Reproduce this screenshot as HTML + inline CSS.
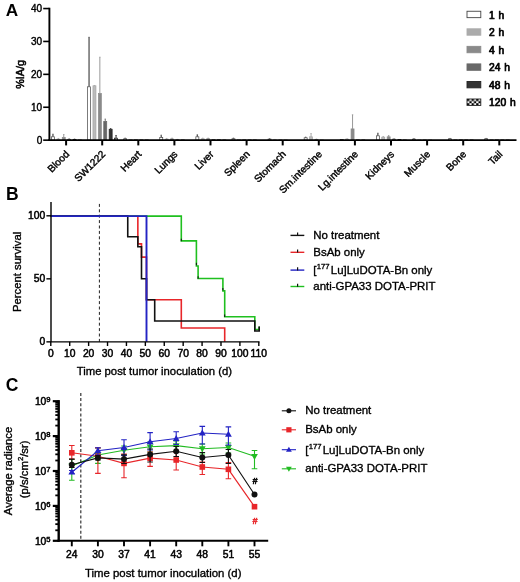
<!DOCTYPE html>
<html lang="en"><head><meta charset="utf-8"><title>Figure</title>
<style>
html,body{margin:0;padding:0;background:#fff;}
svg{display:block;}
text{font-family:"Liberation Sans", Arial, Helvetica, sans-serif;fill:#000;stroke:#000;stroke-width:0.3px;stroke-linejoin:round;}
.a{font-size:10px;stroke-width:0.4px;}
.ac{font-size:10.1px;stroke-width:0.4px;}
.t{font-size:10.3px;stroke-width:0.5px;}
.b{font-size:11.3px;stroke-width:0.35px;}
.lg{font-size:11.45px;stroke-width:0.35px;}
.pl{font-size:17.5px;font-weight:bold;fill:#000;stroke:none;}
</style></head><body>
<svg width="520" height="582" viewBox="0 0 520 582">
<defs>
<pattern id="chk" x="467" y="98.85" width="4.6" height="4.4" patternUnits="userSpaceOnUse">
<rect width="4.6" height="4.4" fill="#fff"/><rect width="2.3" height="2.2" fill="#000"/><rect x="2.3" y="2.2" width="2.3" height="2.2" fill="#000"/>
</pattern>
</defs>
<rect width="520" height="582" fill="#fff"/>

<text class="pl" x="5.7" y="15.6" style="font-size:17.2px">A</text>
<text class="pl" x="6" y="199.5">B</text>
<text class="pl" x="5.8" y="390.6">C</text>
<g id="panelA">
<line x1="52.95" y1="136.81" x2="52.95" y2="134.18" stroke="#555" stroke-width="1.3"/>
<line x1="52.25" y1="134.18" x2="53.65" y2="134.18" stroke="#555" stroke-width="0.8"/>
<rect x="51.45" y="136.81" width="3.0" height="3.29" fill="#fff" stroke="#444" stroke-width="0.7"/>
<line x1="58.35" y1="139.11" x2="58.35" y2="138.45" stroke="#aaa" stroke-width="1.0"/>
<line x1="57.65" y1="138.45" x2="59.05" y2="138.45" stroke="#aaa" stroke-width="0.8"/>
<rect x="56.85" y="139.11" width="3.0" height="0.99" fill="#bbbbbb" stroke="#a4a4a4" stroke-width="0.7"/>
<line x1="63.75" y1="137.47" x2="63.75" y2="134.51" stroke="#999" stroke-width="1.0"/>
<line x1="63.05" y1="134.51" x2="64.45" y2="134.51" stroke="#999" stroke-width="0.8"/>
<rect x="62.25" y="137.47" width="3.0" height="2.63" fill="#8a8a8a" stroke="#8a8a8a" stroke-width="0.7"/>
<line x1="69.15" y1="139.28" x2="69.15" y2="138.78" stroke="#777" stroke-width="1.0"/>
<line x1="68.45" y1="138.78" x2="69.85" y2="138.78" stroke="#777" stroke-width="0.8"/>
<rect x="67.65" y="139.28" width="3.0" height="0.82" fill="#686868" stroke="#686868" stroke-width="0.7"/>
<line x1="74.55" y1="139.44" x2="74.55" y2="139.11" stroke="#333" stroke-width="1.0"/>
<line x1="73.85" y1="139.11" x2="75.25" y2="139.11" stroke="#333" stroke-width="0.8"/>
<rect x="73.05" y="139.44" width="3.0" height="0.66" fill="#333" stroke="#222" stroke-width="0.7"/>
<rect x="78.45" y="139.94" width="3.0" height="0.16" fill="url(#chk)" stroke="#222" stroke-width="0.7"/>
<line x1="89.05" y1="86.80" x2="89.05" y2="37.29" stroke="#555" stroke-width="1.3"/>
<line x1="88.35" y1="37.29" x2="89.75" y2="37.29" stroke="#555" stroke-width="0.8"/>
<rect x="87.55" y="86.80" width="3.0" height="53.30" fill="#fff" stroke="#444" stroke-width="0.7"/>
<line x1="94.45" y1="85.81" x2="94.45" y2="85.49" stroke="#aaa" stroke-width="1.0"/>
<line x1="93.75" y1="85.49" x2="95.15" y2="85.49" stroke="#aaa" stroke-width="0.8"/>
<rect x="92.95" y="85.81" width="3.0" height="54.28" fill="#bbbbbb" stroke="#a4a4a4" stroke-width="0.7"/>
<line x1="99.85" y1="93.38" x2="99.85" y2="57.19" stroke="#999" stroke-width="1.0"/>
<line x1="99.15" y1="57.19" x2="100.55" y2="57.19" stroke="#999" stroke-width="0.8"/>
<rect x="98.35" y="93.38" width="3.0" height="46.72" fill="#8a8a8a" stroke="#8a8a8a" stroke-width="0.7"/>
<line x1="105.25" y1="121.35" x2="105.25" y2="119.04" stroke="#777" stroke-width="1.0"/>
<line x1="104.55" y1="119.04" x2="105.95" y2="119.04" stroke="#777" stroke-width="0.8"/>
<rect x="103.75" y="121.35" width="3.0" height="18.75" fill="#686868" stroke="#686868" stroke-width="0.7"/>
<line x1="110.65" y1="129.24" x2="110.65" y2="128.58" stroke="#333" stroke-width="1.0"/>
<line x1="109.95" y1="128.58" x2="111.35" y2="128.58" stroke="#333" stroke-width="0.8"/>
<rect x="109.15" y="129.24" width="3.0" height="10.86" fill="#333" stroke="#222" stroke-width="0.7"/>
<line x1="116.05" y1="138.13" x2="116.05" y2="135.49" stroke="#333" stroke-width="1.0"/>
<line x1="115.35" y1="135.49" x2="116.75" y2="135.49" stroke="#333" stroke-width="0.8"/>
<rect x="114.55" y="138.13" width="3.0" height="1.97" fill="url(#chk)" stroke="#222" stroke-width="0.7"/>
<line x1="125.15" y1="138.78" x2="125.15" y2="138.13" stroke="#555" stroke-width="1.3"/>
<line x1="124.45" y1="138.13" x2="125.85" y2="138.13" stroke="#555" stroke-width="0.8"/>
<rect x="123.65" y="138.78" width="3.0" height="1.32" fill="#fff" stroke="#444" stroke-width="0.7"/>
<rect x="129.05" y="139.61" width="3.0" height="0.49" fill="#bbbbbb" stroke="#a4a4a4" stroke-width="0.7"/>
<rect x="134.45" y="139.61" width="3.0" height="0.49" fill="#8a8a8a" stroke="#8a8a8a" stroke-width="0.7"/>
<rect x="139.85" y="139.77" width="3.0" height="0.33" fill="#686868" stroke="#686868" stroke-width="0.7"/>
<rect x="145.25" y="139.94" width="3.0" height="0.16" fill="#333" stroke="#222" stroke-width="0.7"/>
<line x1="161.25" y1="137.47" x2="161.25" y2="135.16" stroke="#555" stroke-width="1.3"/>
<line x1="160.55" y1="135.16" x2="161.95" y2="135.16" stroke="#555" stroke-width="0.8"/>
<rect x="159.75" y="137.47" width="3.0" height="2.63" fill="#fff" stroke="#444" stroke-width="0.7"/>
<line x1="166.65" y1="139.11" x2="166.65" y2="138.45" stroke="#aaa" stroke-width="1.0"/>
<line x1="165.95" y1="138.45" x2="167.35" y2="138.45" stroke="#aaa" stroke-width="0.8"/>
<rect x="165.15" y="139.11" width="3.0" height="0.99" fill="#bbbbbb" stroke="#a4a4a4" stroke-width="0.7"/>
<line x1="172.05" y1="138.95" x2="172.05" y2="138.13" stroke="#999" stroke-width="1.0"/>
<line x1="171.35" y1="138.13" x2="172.75" y2="138.13" stroke="#999" stroke-width="0.8"/>
<rect x="170.55" y="138.95" width="3.0" height="1.15" fill="#8a8a8a" stroke="#8a8a8a" stroke-width="0.7"/>
<line x1="177.45" y1="139.77" x2="177.45" y2="139.44" stroke="#777" stroke-width="1.0"/>
<line x1="176.75" y1="139.44" x2="178.15" y2="139.44" stroke="#777" stroke-width="0.8"/>
<rect x="175.95" y="139.77" width="3.0" height="0.33" fill="#686868" stroke="#686868" stroke-width="0.7"/>
<rect x="181.35" y="139.94" width="3.0" height="0.16" fill="#333" stroke="#222" stroke-width="0.7"/>
<line x1="197.35" y1="136.81" x2="197.35" y2="134.84" stroke="#555" stroke-width="1.3"/>
<line x1="196.65" y1="134.84" x2="198.05" y2="134.84" stroke="#555" stroke-width="0.8"/>
<rect x="195.85" y="136.81" width="3.0" height="3.29" fill="#fff" stroke="#444" stroke-width="0.7"/>
<line x1="202.75" y1="138.78" x2="202.75" y2="138.13" stroke="#aaa" stroke-width="1.0"/>
<line x1="202.05" y1="138.13" x2="203.45" y2="138.13" stroke="#aaa" stroke-width="0.8"/>
<rect x="201.25" y="138.78" width="3.0" height="1.32" fill="#bbbbbb" stroke="#a4a4a4" stroke-width="0.7"/>
<line x1="208.15" y1="138.78" x2="208.15" y2="138.13" stroke="#999" stroke-width="1.0"/>
<line x1="207.45" y1="138.13" x2="208.85" y2="138.13" stroke="#999" stroke-width="0.8"/>
<rect x="206.65" y="138.78" width="3.0" height="1.32" fill="#8a8a8a" stroke="#8a8a8a" stroke-width="0.7"/>
<rect x="212.05" y="139.61" width="3.0" height="0.49" fill="#686868" stroke="#686868" stroke-width="0.7"/>
<rect x="217.45" y="139.77" width="3.0" height="0.33" fill="#333" stroke="#222" stroke-width="0.7"/>
<rect x="222.85" y="139.94" width="3.0" height="0.16" fill="url(#chk)" stroke="#222" stroke-width="0.7"/>
<line x1="233.45" y1="138.78" x2="233.45" y2="138.13" stroke="#555" stroke-width="1.3"/>
<line x1="232.75" y1="138.13" x2="234.15" y2="138.13" stroke="#555" stroke-width="0.8"/>
<rect x="231.95" y="138.78" width="3.0" height="1.32" fill="#fff" stroke="#444" stroke-width="0.7"/>
<rect x="237.35" y="139.61" width="3.0" height="0.49" fill="#bbbbbb" stroke="#a4a4a4" stroke-width="0.7"/>
<rect x="242.75" y="139.61" width="3.0" height="0.49" fill="#8a8a8a" stroke="#8a8a8a" stroke-width="0.7"/>
<rect x="248.15" y="139.77" width="3.0" height="0.33" fill="#686868" stroke="#686868" stroke-width="0.7"/>
<rect x="253.55" y="139.94" width="3.0" height="0.16" fill="#333" stroke="#222" stroke-width="0.7"/>
<line x1="269.55" y1="139.11" x2="269.55" y2="138.78" stroke="#555" stroke-width="1.3"/>
<line x1="268.85" y1="138.78" x2="270.25" y2="138.78" stroke="#555" stroke-width="0.8"/>
<rect x="268.05" y="139.11" width="3.0" height="0.99" fill="#fff" stroke="#444" stroke-width="0.7"/>
<line x1="274.95" y1="139.77" x2="274.95" y2="139.44" stroke="#aaa" stroke-width="1.0"/>
<line x1="274.25" y1="139.44" x2="275.65" y2="139.44" stroke="#aaa" stroke-width="0.8"/>
<rect x="273.45" y="139.77" width="3.0" height="0.33" fill="#bbbbbb" stroke="#a4a4a4" stroke-width="0.7"/>
<rect x="278.85" y="139.77" width="3.0" height="0.33" fill="#8a8a8a" stroke="#8a8a8a" stroke-width="0.7"/>
<rect x="284.25" y="139.94" width="3.0" height="0.16" fill="#686868" stroke="#686868" stroke-width="0.7"/>
<line x1="305.65" y1="137.80" x2="305.65" y2="137.14" stroke="#555" stroke-width="1.3"/>
<line x1="304.95" y1="137.14" x2="306.35" y2="137.14" stroke="#555" stroke-width="0.8"/>
<rect x="304.15" y="137.80" width="3.0" height="2.30" fill="#fff" stroke="#444" stroke-width="0.7"/>
<line x1="311.05" y1="136.81" x2="311.05" y2="133.52" stroke="#aaa" stroke-width="1.0"/>
<line x1="310.35" y1="133.52" x2="311.75" y2="133.52" stroke="#aaa" stroke-width="0.8"/>
<rect x="309.55" y="136.81" width="3.0" height="3.29" fill="#bbbbbb" stroke="#a4a4a4" stroke-width="0.7"/>
<line x1="316.45" y1="139.44" x2="316.45" y2="139.11" stroke="#999" stroke-width="1.0"/>
<line x1="315.75" y1="139.11" x2="317.15" y2="139.11" stroke="#999" stroke-width="0.8"/>
<rect x="314.95" y="139.44" width="3.0" height="0.66" fill="#8a8a8a" stroke="#8a8a8a" stroke-width="0.7"/>
<rect x="320.35" y="139.94" width="3.0" height="0.16" fill="#686868" stroke="#686868" stroke-width="0.7"/>
<rect x="340.25" y="139.61" width="3.0" height="0.49" fill="#fff" stroke="#444" stroke-width="0.7"/>
<line x1="347.15" y1="139.11" x2="347.15" y2="138.78" stroke="#aaa" stroke-width="1.0"/>
<line x1="346.45" y1="138.78" x2="347.85" y2="138.78" stroke="#aaa" stroke-width="0.8"/>
<rect x="345.65" y="139.11" width="3.0" height="0.99" fill="#bbbbbb" stroke="#a4a4a4" stroke-width="0.7"/>
<line x1="352.55" y1="128.91" x2="352.55" y2="114.77" stroke="#999" stroke-width="1.0"/>
<line x1="351.85" y1="114.77" x2="353.25" y2="114.77" stroke="#999" stroke-width="0.8"/>
<rect x="351.05" y="128.91" width="3.0" height="11.19" fill="#8a8a8a" stroke="#8a8a8a" stroke-width="0.7"/>
<rect x="356.45" y="139.77" width="3.0" height="0.33" fill="#686868" stroke="#686868" stroke-width="0.7"/>
<rect x="361.85" y="139.94" width="3.0" height="0.16" fill="#333" stroke="#222" stroke-width="0.7"/>
<line x1="377.85" y1="135.82" x2="377.85" y2="133.19" stroke="#555" stroke-width="1.3"/>
<line x1="377.15" y1="133.19" x2="378.55" y2="133.19" stroke="#555" stroke-width="0.8"/>
<rect x="376.35" y="135.82" width="3.0" height="4.28" fill="#fff" stroke="#444" stroke-width="0.7"/>
<line x1="383.25" y1="137.14" x2="383.25" y2="136.48" stroke="#aaa" stroke-width="1.0"/>
<line x1="382.55" y1="136.48" x2="383.95" y2="136.48" stroke="#aaa" stroke-width="0.8"/>
<rect x="381.75" y="137.14" width="3.0" height="2.96" fill="#bbbbbb" stroke="#a4a4a4" stroke-width="0.7"/>
<line x1="388.65" y1="136.81" x2="388.65" y2="135.49" stroke="#999" stroke-width="1.0"/>
<line x1="387.95" y1="135.49" x2="389.35" y2="135.49" stroke="#999" stroke-width="0.8"/>
<rect x="387.15" y="136.81" width="3.0" height="3.29" fill="#8a8a8a" stroke="#8a8a8a" stroke-width="0.7"/>
<line x1="394.05" y1="139.11" x2="394.05" y2="138.78" stroke="#777" stroke-width="1.0"/>
<line x1="393.35" y1="138.78" x2="394.75" y2="138.78" stroke="#777" stroke-width="0.8"/>
<rect x="392.55" y="139.11" width="3.0" height="0.99" fill="#686868" stroke="#686868" stroke-width="0.7"/>
<rect x="397.95" y="139.61" width="3.0" height="0.49" fill="#333" stroke="#222" stroke-width="0.7"/>
<rect x="403.35" y="139.94" width="3.0" height="0.16" fill="url(#chk)" stroke="#222" stroke-width="0.7"/>
<line x1="413.95" y1="139.11" x2="413.95" y2="138.78" stroke="#555" stroke-width="1.3"/>
<line x1="413.25" y1="138.78" x2="414.65" y2="138.78" stroke="#555" stroke-width="0.8"/>
<rect x="412.45" y="139.11" width="3.0" height="0.99" fill="#fff" stroke="#444" stroke-width="0.7"/>
<rect x="417.85" y="139.77" width="3.0" height="0.33" fill="#bbbbbb" stroke="#a4a4a4" stroke-width="0.7"/>
<rect x="423.25" y="139.77" width="3.0" height="0.33" fill="#8a8a8a" stroke="#8a8a8a" stroke-width="0.7"/>
<rect x="428.65" y="139.94" width="3.0" height="0.16" fill="#686868" stroke="#686868" stroke-width="0.7"/>
<line x1="450.05" y1="138.78" x2="450.05" y2="138.45" stroke="#555" stroke-width="1.3"/>
<line x1="449.35" y1="138.45" x2="450.75" y2="138.45" stroke="#555" stroke-width="0.8"/>
<rect x="448.55" y="138.78" width="3.0" height="1.32" fill="#fff" stroke="#444" stroke-width="0.7"/>
<rect x="453.95" y="139.61" width="3.0" height="0.49" fill="#bbbbbb" stroke="#a4a4a4" stroke-width="0.7"/>
<rect x="459.35" y="139.61" width="3.0" height="0.49" fill="#8a8a8a" stroke="#8a8a8a" stroke-width="0.7"/>
<rect x="464.75" y="139.77" width="3.0" height="0.33" fill="#686868" stroke="#686868" stroke-width="0.7"/>
<rect x="470.15" y="139.94" width="3.0" height="0.16" fill="#333" stroke="#222" stroke-width="0.7"/>
<line x1="486.15" y1="138.78" x2="486.15" y2="138.45" stroke="#555" stroke-width="1.3"/>
<line x1="485.45" y1="138.45" x2="486.85" y2="138.45" stroke="#555" stroke-width="0.8"/>
<rect x="484.65" y="138.78" width="3.0" height="1.32" fill="#fff" stroke="#444" stroke-width="0.7"/>
<rect x="490.05" y="139.61" width="3.0" height="0.49" fill="#bbbbbb" stroke="#a4a4a4" stroke-width="0.7"/>
<rect x="495.45" y="139.44" width="3.0" height="0.66" fill="#8a8a8a" stroke="#8a8a8a" stroke-width="0.7"/>
<rect x="500.85" y="139.77" width="3.0" height="0.33" fill="#686868" stroke="#686868" stroke-width="0.7"/>
<rect x="506.25" y="139.94" width="3.0" height="0.16" fill="#333" stroke="#222" stroke-width="0.7"/>
<path d="M49.4,7.75 V140.1 H516.5" fill="none" stroke="#000" stroke-width="1.9" stroke-linecap="butt"/>
<line x1="48.4" y1="140.1" x2="49.4" y2="140.1" stroke="#000" stroke-width="2"/>
<line x1="43.2" y1="8.55" x2="49.4" y2="8.55" stroke="#000" stroke-width="1.6"/>
<text class="a" x="42.2" y="12.15" text-anchor="end">40</text>
<line x1="43.2" y1="41.45" x2="49.4" y2="41.45" stroke="#000" stroke-width="1.6"/>
<text class="a" x="42.2" y="45.05" text-anchor="end">30</text>
<line x1="43.2" y1="74.35" x2="49.4" y2="74.35" stroke="#000" stroke-width="1.6"/>
<text class="a" x="42.2" y="77.95" text-anchor="end">20</text>
<line x1="43.2" y1="107.25" x2="49.4" y2="107.25" stroke="#000" stroke-width="1.6"/>
<text class="a" x="42.2" y="110.85" text-anchor="end">10</text>
<line x1="43.2" y1="140.15" x2="49.4" y2="140.15" stroke="#000" stroke-width="1.6"/>
<text class="a" x="42.2" y="143.75" text-anchor="end">0</text>
<line x1="66.10" y1="140.1" x2="66.10" y2="145.4" stroke="#000" stroke-width="2"/>
<text class="ac" text-anchor="end" transform="translate(69.90,154.8) rotate(-45)">Blood</text>
<line x1="102.20" y1="140.1" x2="102.20" y2="145.4" stroke="#000" stroke-width="2"/>
<text class="ac" text-anchor="end" transform="translate(106.00,154.8) rotate(-45)">SW1222</text>
<line x1="138.30" y1="140.1" x2="138.30" y2="145.4" stroke="#000" stroke-width="2"/>
<text class="ac" text-anchor="end" transform="translate(142.10,154.8) rotate(-45)">Heart</text>
<line x1="174.40" y1="140.1" x2="174.40" y2="145.4" stroke="#000" stroke-width="2"/>
<text class="ac" text-anchor="end" transform="translate(178.20,154.8) rotate(-45)">Lungs</text>
<line x1="210.50" y1="140.1" x2="210.50" y2="145.4" stroke="#000" stroke-width="2"/>
<text class="ac" text-anchor="end" transform="translate(214.30,154.8) rotate(-45)">Liver</text>
<line x1="246.60" y1="140.1" x2="246.60" y2="145.4" stroke="#000" stroke-width="2"/>
<text class="ac" text-anchor="end" transform="translate(250.40,154.8) rotate(-45)">Spleen</text>
<line x1="282.70" y1="140.1" x2="282.70" y2="145.4" stroke="#000" stroke-width="2"/>
<text class="ac" text-anchor="end" transform="translate(286.50,154.8) rotate(-45)">Stomach</text>
<line x1="318.80" y1="140.1" x2="318.80" y2="145.4" stroke="#000" stroke-width="2"/>
<text class="ac" text-anchor="end" transform="translate(322.60,154.8) rotate(-45)">Sm.intestine</text>
<line x1="354.90" y1="140.1" x2="354.90" y2="145.4" stroke="#000" stroke-width="2"/>
<text class="ac" text-anchor="end" transform="translate(358.70,154.8) rotate(-45)">Lg.intestine</text>
<line x1="391.00" y1="140.1" x2="391.00" y2="145.4" stroke="#000" stroke-width="2"/>
<text class="ac" text-anchor="end" transform="translate(394.80,154.8) rotate(-45)">Kidneys</text>
<line x1="427.10" y1="140.1" x2="427.10" y2="145.4" stroke="#000" stroke-width="2"/>
<text class="ac" text-anchor="end" transform="translate(430.90,154.8) rotate(-45)">Muscle</text>
<line x1="463.20" y1="140.1" x2="463.20" y2="145.4" stroke="#000" stroke-width="2"/>
<text class="ac" text-anchor="end" transform="translate(467.00,154.8) rotate(-45)">Bone</text>
<line x1="499.30" y1="140.1" x2="499.30" y2="145.4" stroke="#000" stroke-width="2"/>
<text class="ac" text-anchor="end" transform="translate(503.10,154.8) rotate(-45)">Tail</text>
<text class="a" style="font-size:10.8px;stroke-width:0.5px" text-anchor="middle" transform="translate(24.3,74.4) rotate(-90)">%IA/g</text>
<rect x="467" y="11.25" width="13.8" height="6.4" fill="#fff" stroke="#444" stroke-width="0.9"/>
<text class="a" x="489.1" y="18.55" style="word-spacing:0.8px;font-size:10.3px;stroke-width:0.7px">1 h</text>
<rect x="467" y="28.80" width="13.8" height="6.4" fill="#ababab" stroke="#ababab" stroke-width="0.9"/>
<text class="a" x="489.1" y="36.10" style="word-spacing:0.8px;font-size:10.3px;stroke-width:0.7px">2 h</text>
<rect x="467" y="46.35" width="13.8" height="6.4" fill="#8a8a8a" stroke="#8a8a8a" stroke-width="0.9"/>
<text class="a" x="489.1" y="53.65" style="word-spacing:0.8px;font-size:10.3px;stroke-width:0.7px">4 h</text>
<rect x="467" y="63.90" width="13.8" height="6.4" fill="#686868" stroke="#686868" stroke-width="0.9"/>
<text class="a" x="489.1" y="71.20" style="word-spacing:0.8px;font-size:10.3px;stroke-width:0.7px">24 h</text>
<rect x="467" y="81.45" width="13.8" height="6.4" fill="#333" stroke="#222" stroke-width="0.9"/>
<text class="a" x="489.1" y="88.75" style="word-spacing:0.8px;font-size:10.3px;stroke-width:0.7px">48 h</text>
<rect x="467" y="99.00" width="13.8" height="6.4" fill="url(#chk)" stroke="#222" stroke-width="0.9"/>
<text class="a" x="489.1" y="106.30" style="word-spacing:0.8px;font-size:10.3px;stroke-width:0.7px">120 h</text>
</g>
<g id="panelB">
<line x1="99.4" y1="203.9" x2="99.4" y2="341.85" stroke="#222" stroke-width="1" stroke-dasharray="3,2.4"/>
<path d="M50.80,216.10 L137.85,216.10 L137.85,243.90 L141.50,243.90 L141.50,257.10 L146.50,257.10 L146.50,299.80 L181.30,299.80 L181.30,328.00 L224.70,328.00 L224.70,341.85" fill="none" stroke="#e8262a" stroke-width="1.6" stroke-linejoin="miter"/>
<path d="M50.80,216.10 L181.30,216.10 L181.30,240.90 L196.40,240.90 L196.40,266.00 L198.10,266.00 L198.10,278.50 L222.90,278.50 L222.90,290.90 L224.70,290.90 L224.70,316.70 L254.80,316.70 L254.80,329.50 L259.20,329.50 L259.20,326.50" fill="none" stroke="#1fc01f" stroke-width="1.6" stroke-linejoin="miter"/>
<path d="M50.80,216.10 L127.75,216.10 L127.75,236.70 L137.85,236.70 L137.85,246.80 L141.50,246.80 L141.50,278.80 L146.50,278.80 L146.50,299.80 L154.70,299.80 L154.70,321.00 L254.80,321.00 L254.80,331.00 L259.20,331.00 L259.20,326.50" fill="none" stroke="#111" stroke-width="1.6" stroke-linejoin="miter"/>
<line x1="181.3" y1="238.70000000000002" x2="181.3" y2="241.20000000000002" stroke="#111" stroke-width="1"/>
<line x1="196.4" y1="262.8" x2="196.4" y2="265.3" stroke="#111" stroke-width="1"/>
<line x1="222.9" y1="288.0" x2="222.9" y2="290.5" stroke="#111" stroke-width="1"/>
<line x1="224.7" y1="314.5" x2="224.7" y2="317.0" stroke="#111" stroke-width="1"/>
<line x1="198.1" y1="276.3" x2="198.1" y2="278.8" stroke="#111" stroke-width="1"/>
<path d="M50.80,216.10 L146.50,216.10 L146.50,341.85" fill="none" stroke="#2323c4" stroke-width="1.9" stroke-linejoin="miter"/>
<path d="M51,202 V341.85 H259.5" fill="none" stroke="#000" stroke-width="1.4"/>
<line x1="46.4" y1="215.80" x2="51" y2="215.80" stroke="#000" stroke-width="1.4"/>
<text class="t" x="45.2" y="219.20" text-anchor="end">100</text>
<line x1="46.4" y1="278.83" x2="51" y2="278.83" stroke="#000" stroke-width="1.4"/>
<text class="t" x="45.2" y="282.23" text-anchor="end">50</text>
<line x1="46.4" y1="341.85" x2="51" y2="341.85" stroke="#000" stroke-width="1.4"/>
<text class="t" x="45.2" y="345.25" text-anchor="end">0</text>
<line x1="50.80" y1="341.85" x2="50.80" y2="346" stroke="#000" stroke-width="1.4"/>
<text class="t" x="50.80" y="356.9" text-anchor="middle">0</text>
<line x1="69.71" y1="341.85" x2="69.71" y2="346" stroke="#000" stroke-width="1.4"/>
<text class="t" x="69.71" y="356.9" text-anchor="middle">10</text>
<line x1="88.62" y1="341.85" x2="88.62" y2="346" stroke="#000" stroke-width="1.4"/>
<text class="t" x="88.62" y="356.9" text-anchor="middle">20</text>
<line x1="107.53" y1="341.85" x2="107.53" y2="346" stroke="#000" stroke-width="1.4"/>
<text class="t" x="107.53" y="356.9" text-anchor="middle">30</text>
<line x1="126.44" y1="341.85" x2="126.44" y2="346" stroke="#000" stroke-width="1.4"/>
<text class="t" x="126.44" y="356.9" text-anchor="middle">40</text>
<line x1="145.35" y1="341.85" x2="145.35" y2="346" stroke="#000" stroke-width="1.4"/>
<text class="t" x="145.35" y="356.9" text-anchor="middle">50</text>
<line x1="164.26" y1="341.85" x2="164.26" y2="346" stroke="#000" stroke-width="1.4"/>
<text class="t" x="164.26" y="356.9" text-anchor="middle">60</text>
<line x1="183.17" y1="341.85" x2="183.17" y2="346" stroke="#000" stroke-width="1.4"/>
<text class="t" x="183.17" y="356.9" text-anchor="middle">70</text>
<line x1="202.08" y1="341.85" x2="202.08" y2="346" stroke="#000" stroke-width="1.4"/>
<text class="t" x="202.08" y="356.9" text-anchor="middle">80</text>
<line x1="220.99" y1="341.85" x2="220.99" y2="346" stroke="#000" stroke-width="1.4"/>
<text class="t" x="220.99" y="356.9" text-anchor="middle">90</text>
<line x1="239.90" y1="341.85" x2="239.90" y2="346" stroke="#000" stroke-width="1.4"/>
<text class="t" x="239.90" y="356.9" text-anchor="middle">100</text>
<line x1="258.81" y1="341.85" x2="258.81" y2="346" stroke="#000" stroke-width="1.4"/>
<text class="t" x="258.81" y="356.9" text-anchor="middle">110</text>
<text class="b" x="154.4" y="374.5" text-anchor="middle">Time post tumor inoculation (d)</text>
<text class="b" text-anchor="middle" transform="translate(20.6,271.9) rotate(-90)">Percent survival</text>
<line x1="290.5" y1="235.4" x2="304.3" y2="235.4" stroke="#111" stroke-width="1.4"/>
<line x1="297.6" y1="235.70000000000002" x2="297.6" y2="232.6" stroke="#111" stroke-width="1.2"/>
<text class="lg" x="313.3" y="238.70">No treatment</text>
<line x1="290.5" y1="252.3" x2="304.3" y2="252.3" stroke="#e8262a" stroke-width="1.4"/>
<line x1="297.6" y1="252.60000000000002" x2="297.6" y2="249.5" stroke="#111" stroke-width="1.2"/>
<text class="lg" x="313.3" y="255.60">BsAb only</text>
<line x1="290.5" y1="270.1" x2="304.3" y2="270.1" stroke="#2323c4" stroke-width="1.4"/>
<line x1="297.6" y1="270.40000000000003" x2="297.6" y2="267.3" stroke="#111" stroke-width="1.2"/>
<text class="lg" x="313.3" y="273.90">[<tspan font-size="7.7" dy="-5.1" dx="0.3">177</tspan><tspan dy="5.1" dx="1.2">Lu]LuDOTA-Bn only</tspan></text>
<line x1="290.5" y1="286.5" x2="304.3" y2="286.5" stroke="#1fc01f" stroke-width="1.4"/>
<line x1="297.6" y1="286.8" x2="297.6" y2="283.7" stroke="#111" stroke-width="1.2"/>
<text class="lg" x="313.3" y="289.80">anti-GPA33 DOTA-PRIT</text>
</g>
<g id="panelC">
<line x1="80.8" y1="393" x2="80.8" y2="540.8" stroke="#333" stroke-width="1.2" stroke-dasharray="3,2.1"/>
<path d="M71.80,466.00 L97.90,455.00 L124.00,450.30 L150.10,446.80 L176.20,445.70 L202.30,448.70 L228.40,447.50 L254.50,456.30" fill="none" stroke="#22bb22" stroke-width="1.15"/>
<path d="M71.80,459.50 V480.30 M69.00,459.50 h5.6 M69.00,480.30 h5.6" fill="none" stroke="#22bb22" stroke-width="1.1"/>
<path d="M97.90,448.00 V463.40 M95.10,448.00 h5.6 M95.10,463.40 h5.6" fill="none" stroke="#22bb22" stroke-width="1.1"/>
<path d="M124.00,446.00 V455.00 M121.20,446.00 h5.6 M121.20,455.00 h5.6" fill="none" stroke="#22bb22" stroke-width="1.1"/>
<path d="M150.10,442.00 V452.00 M147.30,442.00 h5.6 M147.30,452.00 h5.6" fill="none" stroke="#22bb22" stroke-width="1.1"/>
<path d="M176.20,441.00 V451.00 M173.40,441.00 h5.6 M173.40,451.00 h5.6" fill="none" stroke="#22bb22" stroke-width="1.1"/>
<path d="M202.30,444.00 V454.00 M199.50,444.00 h5.6 M199.50,454.00 h5.6" fill="none" stroke="#22bb22" stroke-width="1.1"/>
<path d="M228.40,443.00 V453.00 M225.60,443.00 h5.6 M225.60,453.00 h5.6" fill="none" stroke="#22bb22" stroke-width="1.1"/>
<path d="M254.50,450.50 V468.70 M251.70,450.50 h5.6 M251.70,468.70 h5.6" fill="none" stroke="#22bb22" stroke-width="1.1"/>
<path d="M71.80,469.60 l3.4,-6 h-6.8 z" fill="#22bb22"/>
<path d="M97.90,458.60 l3.4,-6 h-6.8 z" fill="#22bb22"/>
<path d="M124.00,453.90 l3.4,-6 h-6.8 z" fill="#22bb22"/>
<path d="M150.10,450.40 l3.4,-6 h-6.8 z" fill="#22bb22"/>
<path d="M176.20,449.30 l3.4,-6 h-6.8 z" fill="#22bb22"/>
<path d="M202.30,452.30 l3.4,-6 h-6.8 z" fill="#22bb22"/>
<path d="M228.40,451.10 l3.4,-6 h-6.8 z" fill="#22bb22"/>
<path d="M254.50,459.90 l3.4,-6 h-6.8 z" fill="#22bb22"/>
<path d="M71.80,452.80 L97.90,456.30 L124.00,463.40 L150.10,458.20 L176.20,460.00 L202.30,467.00 L228.40,469.30 L254.50,506.70" fill="none" stroke="#e8262a" stroke-width="1.15"/>
<path d="M71.80,445.50 V459.00 M69.00,445.50 h5.6 M69.00,459.00 h5.6" fill="none" stroke="#e8262a" stroke-width="1.1"/>
<path d="M97.90,447.90 V473.40 M95.10,447.90 h5.6 M95.10,473.40 h5.6" fill="none" stroke="#e8262a" stroke-width="1.1"/>
<path d="M124.00,454.00 V477.80 M121.20,454.00 h5.6 M121.20,477.80 h5.6" fill="none" stroke="#e8262a" stroke-width="1.1"/>
<path d="M150.10,452.00 V466.40 M147.30,452.00 h5.6 M147.30,466.40 h5.6" fill="none" stroke="#e8262a" stroke-width="1.1"/>
<path d="M176.20,452.50 V470.00 M173.40,452.50 h5.6 M173.40,470.00 h5.6" fill="none" stroke="#e8262a" stroke-width="1.1"/>
<path d="M202.30,462.00 V474.50 M199.50,462.00 h5.6 M199.50,474.50 h5.6" fill="none" stroke="#e8262a" stroke-width="1.1"/>
<path d="M228.40,462.50 V478.70 M225.60,462.50 h5.6 M225.60,478.70 h5.6" fill="none" stroke="#e8262a" stroke-width="1.1"/>
<rect x="69.00" y="450.00" width="5.6" height="5.6" fill="#e8262a"/>
<rect x="95.10" y="453.50" width="5.6" height="5.6" fill="#e8262a"/>
<rect x="121.20" y="460.60" width="5.6" height="5.6" fill="#e8262a"/>
<rect x="147.30" y="455.40" width="5.6" height="5.6" fill="#e8262a"/>
<rect x="173.40" y="457.20" width="5.6" height="5.6" fill="#e8262a"/>
<rect x="199.50" y="464.20" width="5.6" height="5.6" fill="#e8262a"/>
<rect x="225.60" y="466.50" width="5.6" height="5.6" fill="#e8262a"/>
<rect x="251.70" y="503.90" width="5.6" height="5.6" fill="#e8262a"/>
<path d="M71.80,472.20 L97.90,450.70 L124.00,447.50 L150.10,441.80 L176.20,438.50 L202.30,433.00 L228.40,434.30" fill="none" stroke="#2323c4" stroke-width="1.15"/>
<path d="M71.80,470.50 V473.50 M69.00,470.50 h5.6 M69.00,473.50 h5.6" fill="none" stroke="#2323c4" stroke-width="1.1"/>
<path d="M97.90,447.70 V455.00 M95.10,447.70 h5.6 M95.10,455.00 h5.6" fill="none" stroke="#2323c4" stroke-width="1.1"/>
<path d="M124.00,439.70 V455.50 M121.20,439.70 h5.6 M121.20,455.50 h5.6" fill="none" stroke="#2323c4" stroke-width="1.1"/>
<path d="M150.10,432.60 V450.00 M147.30,432.60 h5.6 M147.30,450.00 h5.6" fill="none" stroke="#2323c4" stroke-width="1.1"/>
<path d="M176.20,431.70 V444.50 M173.40,431.70 h5.6 M173.40,444.50 h5.6" fill="none" stroke="#2323c4" stroke-width="1.1"/>
<path d="M202.30,426.40 V444.00 M199.50,426.40 h5.6 M199.50,444.00 h5.6" fill="none" stroke="#2323c4" stroke-width="1.1"/>
<path d="M228.40,426.90 V445.00 M225.60,426.90 h5.6 M225.60,445.00 h5.6" fill="none" stroke="#2323c4" stroke-width="1.1"/>
<path d="M71.80,468.60 l3.4,6 h-6.8 z" fill="#2323c4"/>
<path d="M97.90,447.10 l3.4,6 h-6.8 z" fill="#2323c4"/>
<path d="M124.00,443.90 l3.4,6 h-6.8 z" fill="#2323c4"/>
<path d="M150.10,438.20 l3.4,6 h-6.8 z" fill="#2323c4"/>
<path d="M176.20,434.90 l3.4,6 h-6.8 z" fill="#2323c4"/>
<path d="M202.30,429.40 l3.4,6 h-6.8 z" fill="#2323c4"/>
<path d="M228.40,430.70 l3.4,6 h-6.8 z" fill="#2323c4"/>
<path d="M71.80,464.80 L97.90,457.90 L124.00,459.10 L150.10,454.40 L176.20,451.30 L202.30,457.50 L228.40,455.00 L254.50,494.50" fill="none" stroke="#111" stroke-width="1.15"/>
<path d="M71.80,459.10 V467.50 M69.00,459.10 h5.6 M69.00,467.50 h5.6" fill="none" stroke="#111" stroke-width="1.1"/>
<path d="M97.90,455.50 V460.00 M95.10,455.50 h5.6 M95.10,460.00 h5.6" fill="none" stroke="#111" stroke-width="1.1"/>
<path d="M124.00,454.90 V463.50 M121.20,454.90 h5.6 M121.20,463.50 h5.6" fill="none" stroke="#111" stroke-width="1.1"/>
<path d="M150.10,449.00 V462.00 M147.30,449.00 h5.6 M147.30,462.00 h5.6" fill="none" stroke="#111" stroke-width="1.1"/>
<path d="M176.20,446.50 V456.50 M173.40,446.50 h5.6 M173.40,456.50 h5.6" fill="none" stroke="#111" stroke-width="1.1"/>
<path d="M202.30,452.50 V462.50 M199.50,452.50 h5.6 M199.50,462.50 h5.6" fill="none" stroke="#111" stroke-width="1.1"/>
<path d="M228.40,449.50 V463.50 M225.60,449.50 h5.6 M225.60,463.50 h5.6" fill="none" stroke="#111" stroke-width="1.1"/>
<circle cx="71.80" cy="464.80" r="3.0" fill="#111"/>
<circle cx="97.90" cy="457.90" r="3.0" fill="#111"/>
<circle cx="124.00" cy="459.10" r="3.0" fill="#111"/>
<circle cx="150.10" cy="454.40" r="3.0" fill="#111"/>
<circle cx="176.20" cy="451.30" r="3.0" fill="#111"/>
<circle cx="202.30" cy="457.50" r="3.0" fill="#111"/>
<circle cx="228.40" cy="455.00" r="3.0" fill="#111"/>
<circle cx="254.50" cy="494.50" r="3.0" fill="#111"/>
<text x="255.00" y="483.6" text-anchor="middle" font-size="9.2" font-weight="bold" style="stroke-width:0.5px">#</text>
<text x="255.00" y="523.9" text-anchor="middle" font-size="9.2" font-weight="bold" style="fill:#e8262a;stroke:#e8262a;stroke-width:0.5px">#</text>
<path d="M58.7,400.10 V541.80" fill="none" stroke="#000" stroke-width="2.4"/>
<path d="M57.5,540.8 H268.2" fill="none" stroke="#000" stroke-width="2"/>
<line x1="52.8" y1="540.80" x2="58.7" y2="540.80" stroke="#000" stroke-width="2.2"/>
<text class="t" x="50.6" y="544.80" text-anchor="end">10<tspan font-size="7.6" dy="-3.3">5</tspan></text>
<line x1="55.3" y1="530.29" x2="58.7" y2="530.29" stroke="#000" stroke-width="1.8"/>
<line x1="55.3" y1="524.15" x2="58.7" y2="524.15" stroke="#000" stroke-width="1.8"/>
<line x1="55.3" y1="519.79" x2="58.7" y2="519.79" stroke="#000" stroke-width="1.8"/>
<line x1="55.3" y1="516.41" x2="58.7" y2="516.41" stroke="#000" stroke-width="1.8"/>
<line x1="55.3" y1="513.64" x2="58.7" y2="513.64" stroke="#000" stroke-width="1.8"/>
<line x1="55.3" y1="511.31" x2="58.7" y2="511.31" stroke="#000" stroke-width="1.8"/>
<line x1="55.3" y1="509.28" x2="58.7" y2="509.28" stroke="#000" stroke-width="1.8"/>
<line x1="55.3" y1="507.50" x2="58.7" y2="507.50" stroke="#000" stroke-width="1.8"/>
<line x1="52.8" y1="505.90" x2="58.7" y2="505.90" stroke="#000" stroke-width="2.2"/>
<text class="t" x="50.6" y="509.90" text-anchor="end">10<tspan font-size="7.6" dy="-3.3">6</tspan></text>
<line x1="55.3" y1="495.39" x2="58.7" y2="495.39" stroke="#000" stroke-width="1.8"/>
<line x1="55.3" y1="489.25" x2="58.7" y2="489.25" stroke="#000" stroke-width="1.8"/>
<line x1="55.3" y1="484.89" x2="58.7" y2="484.89" stroke="#000" stroke-width="1.8"/>
<line x1="55.3" y1="481.51" x2="58.7" y2="481.51" stroke="#000" stroke-width="1.8"/>
<line x1="55.3" y1="478.74" x2="58.7" y2="478.74" stroke="#000" stroke-width="1.8"/>
<line x1="55.3" y1="476.41" x2="58.7" y2="476.41" stroke="#000" stroke-width="1.8"/>
<line x1="55.3" y1="474.38" x2="58.7" y2="474.38" stroke="#000" stroke-width="1.8"/>
<line x1="55.3" y1="472.60" x2="58.7" y2="472.60" stroke="#000" stroke-width="1.8"/>
<line x1="52.8" y1="471.00" x2="58.7" y2="471.00" stroke="#000" stroke-width="2.2"/>
<text class="t" x="50.6" y="475.00" text-anchor="end">10<tspan font-size="7.6" dy="-3.3">7</tspan></text>
<line x1="55.3" y1="460.49" x2="58.7" y2="460.49" stroke="#000" stroke-width="1.8"/>
<line x1="55.3" y1="454.35" x2="58.7" y2="454.35" stroke="#000" stroke-width="1.8"/>
<line x1="55.3" y1="449.99" x2="58.7" y2="449.99" stroke="#000" stroke-width="1.8"/>
<line x1="55.3" y1="446.61" x2="58.7" y2="446.61" stroke="#000" stroke-width="1.8"/>
<line x1="55.3" y1="443.84" x2="58.7" y2="443.84" stroke="#000" stroke-width="1.8"/>
<line x1="55.3" y1="441.51" x2="58.7" y2="441.51" stroke="#000" stroke-width="1.8"/>
<line x1="55.3" y1="439.48" x2="58.7" y2="439.48" stroke="#000" stroke-width="1.8"/>
<line x1="55.3" y1="437.70" x2="58.7" y2="437.70" stroke="#000" stroke-width="1.8"/>
<line x1="52.8" y1="436.10" x2="58.7" y2="436.10" stroke="#000" stroke-width="2.2"/>
<text class="t" x="50.6" y="440.10" text-anchor="end">10<tspan font-size="7.6" dy="-3.3">8</tspan></text>
<line x1="55.3" y1="425.59" x2="58.7" y2="425.59" stroke="#000" stroke-width="1.8"/>
<line x1="55.3" y1="419.45" x2="58.7" y2="419.45" stroke="#000" stroke-width="1.8"/>
<line x1="55.3" y1="415.09" x2="58.7" y2="415.09" stroke="#000" stroke-width="1.8"/>
<line x1="55.3" y1="411.71" x2="58.7" y2="411.71" stroke="#000" stroke-width="1.8"/>
<line x1="55.3" y1="408.94" x2="58.7" y2="408.94" stroke="#000" stroke-width="1.8"/>
<line x1="55.3" y1="406.61" x2="58.7" y2="406.61" stroke="#000" stroke-width="1.8"/>
<line x1="55.3" y1="404.58" x2="58.7" y2="404.58" stroke="#000" stroke-width="1.8"/>
<line x1="55.3" y1="402.80" x2="58.7" y2="402.80" stroke="#000" stroke-width="1.8"/>
<line x1="52.8" y1="401.20" x2="58.7" y2="401.20" stroke="#000" stroke-width="2.2"/>
<text class="t" x="50.6" y="405.20" text-anchor="end">10<tspan font-size="7.6" dy="-3.3">9</tspan></text>
<line x1="71.80" y1="540.8" x2="71.80" y2="546.3" stroke="#000" stroke-width="1.9"/>
<text class="t" x="71.80" y="558.4" text-anchor="middle">24</text>
<line x1="97.90" y1="540.8" x2="97.90" y2="546.3" stroke="#000" stroke-width="1.9"/>
<text class="t" x="97.90" y="558.4" text-anchor="middle">30</text>
<line x1="124.00" y1="540.8" x2="124.00" y2="546.3" stroke="#000" stroke-width="1.9"/>
<text class="t" x="124.00" y="558.4" text-anchor="middle">37</text>
<line x1="150.10" y1="540.8" x2="150.10" y2="546.3" stroke="#000" stroke-width="1.9"/>
<text class="t" x="150.10" y="558.4" text-anchor="middle">41</text>
<line x1="176.20" y1="540.8" x2="176.20" y2="546.3" stroke="#000" stroke-width="1.9"/>
<text class="t" x="176.20" y="558.4" text-anchor="middle">43</text>
<line x1="202.30" y1="540.8" x2="202.30" y2="546.3" stroke="#000" stroke-width="1.9"/>
<text class="t" x="202.30" y="558.4" text-anchor="middle">48</text>
<line x1="228.40" y1="540.8" x2="228.40" y2="546.3" stroke="#000" stroke-width="1.9"/>
<text class="t" x="228.40" y="558.4" text-anchor="middle">51</text>
<line x1="254.50" y1="540.8" x2="254.50" y2="546.3" stroke="#000" stroke-width="1.9"/>
<text class="t" x="254.50" y="558.4" text-anchor="middle">55</text>
<text class="b" x="163.2" y="577.1" text-anchor="middle" style="font-size:11.4px">Time post tumor inoculation (d)</text>
<text class="b" text-anchor="middle" transform="translate(12,471) rotate(-90)">Average radiance</text>
<text class="b" text-anchor="middle" transform="translate(28.2,469.3) rotate(-90)">(p/s/cm<tspan font-size="7.8" dy="-5.3">2</tspan><tspan dy="5.3">/sr)</tspan></text>
<line x1="281.8" y1="410.8" x2="296" y2="410.8" stroke="#111" stroke-width="1.1"/>
<circle cx="288.9" cy="410.8" r="2.5" fill="#111"/>
<text class="lg" x="305.2" y="414.30">No treatment</text>
<line x1="281.8" y1="429.8" x2="296" y2="429.8" stroke="#e8262a" stroke-width="1.1"/>
<rect x="286.29999999999995" y="427.2" width="5.2" height="5.2" fill="#e8262a"/>
<text class="lg" x="305.2" y="433.30">BsAb only</text>
<line x1="281.8" y1="449.7" x2="296" y2="449.7" stroke="#2323c4" stroke-width="1.1"/>
<path d="M288.9,446.7 l2.9,5.1 h-5.8 z" fill="#2323c4"/>
<text class="lg" x="305.2" y="453.70">[<tspan font-size="7.7" dy="-5.1" dx="0.3">177</tspan><tspan dy="5.1" dx="1.2">Lu]LuDOTA-Bn only</tspan></text>
<line x1="281.8" y1="468.8" x2="296" y2="468.8" stroke="#22bb22" stroke-width="1.1"/>
<path d="M288.9,471.8 l2.9,-5.1 h-5.8 z" fill="#22bb22"/>
<text class="lg" x="305.2" y="472.30">anti-GPA33 DOTA-PRIT</text>
</g>
</svg></body></html>
